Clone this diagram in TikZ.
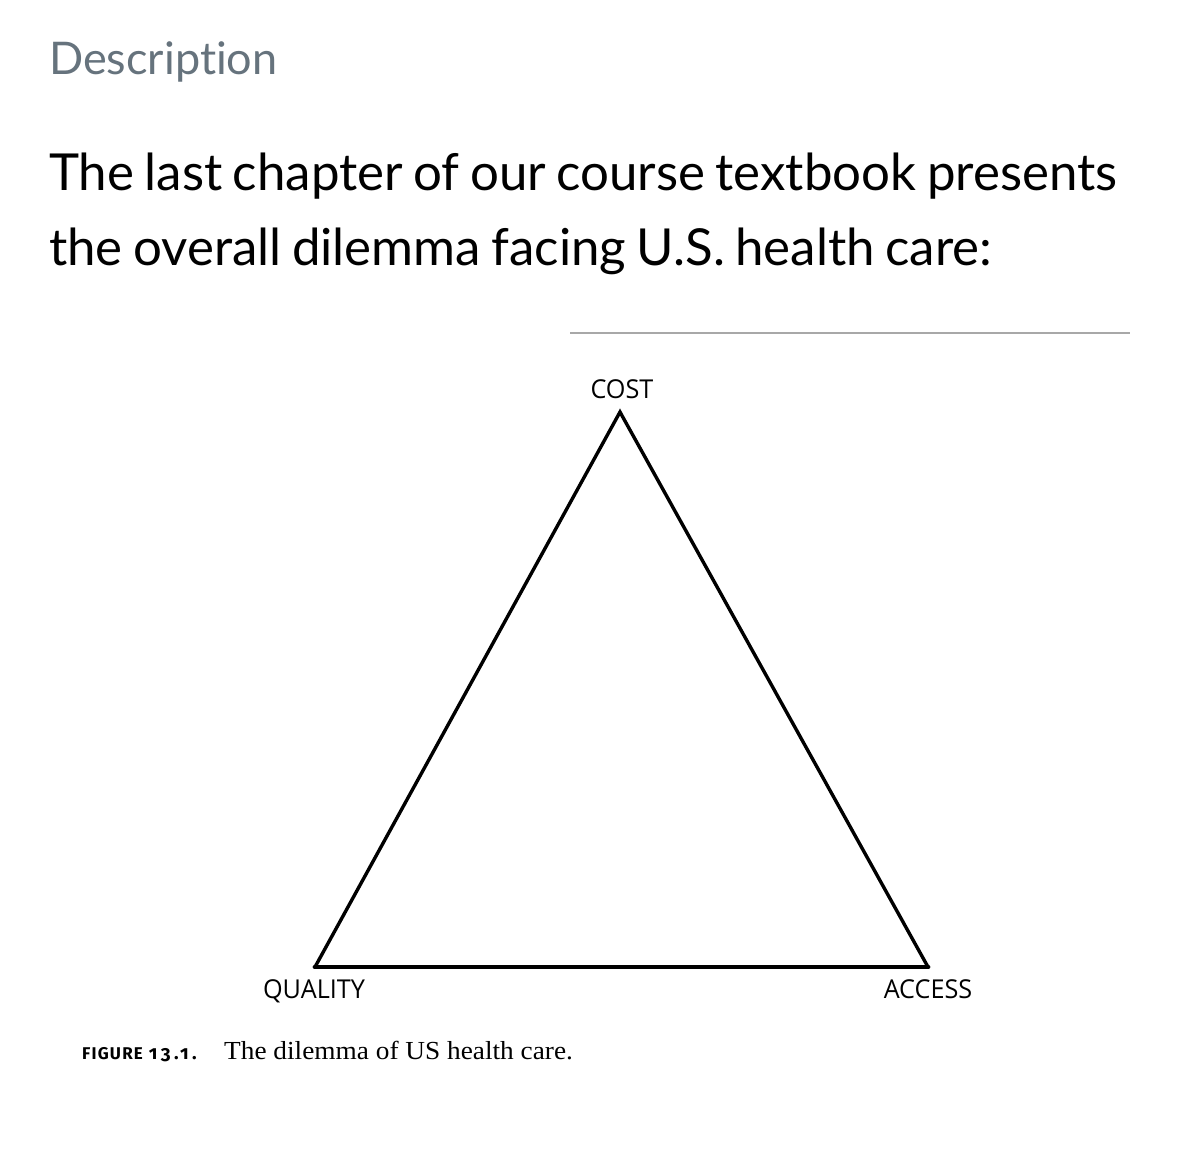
\documentclass[tikz,border=0pt]{standalone}
\usepackage{fontspec}
\setmainfont{Lato}[Ligatures=NoCommon]
\newfontfamily\bodyfont{Lato}[Ligatures=NoCommon, WordSpace=0.8]
\newfontfamily\labelfont{Open Sans}
\newfontfamily\capserif{Liberation Serif}
\newfontfamily\capsans{Fira Sans}[Numbers=OldStyle, LetterSpace=7]
\newfontfamily\capnum{Fira Sans}[Numbers=OldStyle, LetterSpace=18]
\definecolor{descgray}{HTML}{66737D}
\definecolor{rulegray}{HTML}{A8A8A8}
\tikzset{
  heading/.style={anchor=base west, inner sep=0pt, font=\fontsize{45}{45}\selectfont, text=descgray},
  bodytext/.style={anchor=base west, inner sep=0pt, font=\bodyfont\fontsize{51}{51}\selectfont, text=black},
  vertexlabel/.style={anchor=base, inner sep=0pt, font=\labelfont\fontsize{26}{26}\selectfont},
  side/.style={line width=3.4pt, line join=miter, line cap=round},
  basel/.style={line width=4.8pt, line cap=round},
}
\begin{document}
\begin{tikzpicture}[x=1pt,y=-1pt]
\useasboundingbox[fill=white] (0,0) rectangle (1179,1160);
\node[heading] (desc) at (49,74) {Description};
\node[bodytext] (line1) at (49,190) {The last chapter of our course textbook presents};
\node[bodytext] (line2) at (49,265) {the overall dilemma facing U.S. health care:};
\coordinate (rulea) at (570,333);
\coordinate (ruleb) at (1130,333);
\draw[rulegray, line width=1.2pt] (rulea) -- (ruleb);
\coordinate (cost) at (620,412);
\coordinate (quality) at (315,967);
\coordinate (access) at (928,967);
\draw[side] (quality) -- (cost) -- (access);
\draw[basel] (quality) -- (access);
\node[vertexlabel] (costl) at (622,398) {\scalebox{0.97}[1]{COST}};
\node[vertexlabel] (qualityl) at (314,998) {\scalebox{0.97}[1]{QUALITY}};
\node[vertexlabel] (accessl) at (928,998) {\scalebox{0.97}[1]{ACCESS}};
\node[anchor=base west, inner sep=0pt] (figlabel) at (82,1059) {\capsans\bfseries\fontsize{17}{17}\selectfont FIGURE\hspace{6pt}\capnum\bfseries\fontsize{19}{19}\selectfont 13.1.};
\node[anchor=base west, inner sep=0pt] (figcap) at (224,1059) {\capserif\fontsize{26}{26}\selectfont\scalebox{1.05}[1]{The dilemma of US health care.}};
\end{tikzpicture}
\end{document}
